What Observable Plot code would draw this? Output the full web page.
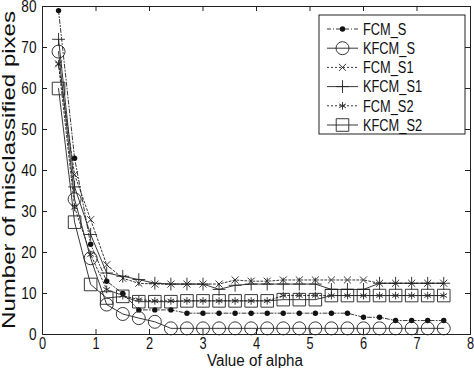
<!DOCTYPE html>
<html><head><meta charset="utf-8">
<script src="https://cdn.jsdelivr.net/npm/d3@7"></script>
<script src="https://cdn.jsdelivr.net/npm/@observablehq/plot@0.6"></script>
<style>body{margin:0;background:#fff} svg{display:block}</style>
</head><body><div id="chart"></div>
<script>
// ---- data ----
const alpha = [0.3,0.6,0.9,1.2,1.5,1.8,2.1,2.4,2.7,3.0,3.3,3.6,3.9,4.2,4.5,4.8,5.1,5.4,5.7,6.0,6.3,6.6,6.9,7.2,7.5];
const FCM_S   = [79,43,22,13,10,6,6,6,5.2,5.2,5.2,5.2,5.2,5.2,5.2,5.2,5.2,5.2,5.2,4.2,4.2,3.4,3.4,3.4,3.4];
const KFCM_S  = [69,33,18.6,7.3,5,4,3.1,1.5,1.5,1.5,1.5,1.5,1.5,1.5,1.5,1.5,1.5,1.5,1.5,1.5,1.5,1.5,1.5,1.5,1.5];
const FCM_S1  = [66,39,28,17,13.7,12.5,12.3,12.3,12.3,12.3,12.3,13.3,13,13,13.3,13.3,13.3,13.3,13.3,13.3,12.5,12.5,12.5,12.5,12.5];
const KFCM_S1 = [72,36,24.4,15,14.2,13.4,12.5,12.3,12.3,12.3,11,12,12.3,12.3,12.3,12.3,12.3,11,11,11,12.5,12.5,12.5,12.5,12.5];
const FCM_S2  = [66,31,19.5,11,9.5,8.5,8.2,8.2,8.2,8.2,8.2,8.2,8.2,8.2,9.5,9.5,9.5,9.5,9.5,9.5,9.5,9.5,9.5,9.5,9.5];
const KFCM_S2 = [60,27.4,12.2,8.9,9.3,8,8,8,8.2,8.2,8.2,8.2,8.2,8.2,8.5,8.5,8.5,9.5,9.5,9.5,9.5,9.5,9.5,9.5,9.5];
const seriesNames = ["FCM_S","KFCM_S","FCM_S1","KFCM_S1","FCM_S2","KFCM_S2"];
const seriesValues = [FCM_S, KFCM_S, FCM_S1, KFCM_S1, FCM_S2, KFCM_S2];
const xTicks = [0,1,2,3,4,5,6,7,8];
const yTicks = [0,10,20,30,40,50,60,70,80];
const xLabel = "Value of alpha";
const yLabel = "Number of misclassified pixes";

// ---- styles ----
const styles = {
  FCM_S:   {symbol: "circle",   r: 2.7, fill: "#111", stroke: "none", dash: "4,2,1,2"},
  KFCM_S:  {symbol: "circle",   r: 6.5, fill: "none", stroke: "#222", dash: null},
  FCM_S1:  {symbol: "times",    r: 3.3, fill: "none", stroke: "#222", dash: "2,2"},
  KFCM_S1: {symbol: "plus",     r: 4.2, fill: "none", stroke: "#222", dash: null},
  FCM_S2:  {symbol: "asterisk", r: 3.6, fill: "none", stroke: "#222", dash: "2,2"},
  KFCM_S2: {symbol: "square2",  r: 8.0, fill: "none", stroke: "#222", dash: null}
};

const W = 474, H = 368, mL = 42, mR = 4, mT = 6, mB = 34;
const plotH = H - mT - mB, plotW = W - mL - mR;
const data = seriesNames.flatMap((name, i) => alpha.map((a, j) => ({name, alpha: a, value: seriesValues[i][j]})));

const marks = [];
for (const name of seriesNames) {
  const s = styles[name];
  const d = data.filter(e => e.name === name);
  marks.push(Plot.line(d, {x: "alpha", y: "value", stroke: "#222", strokeWidth: 0.9, strokeDasharray: s.dash}));
}
for (const name of seriesNames) {
  const s = styles[name];
  const d = data.filter(e => e.name === name);
  marks.push(Plot.dot(d, {x: "alpha", y: "value", symbol: () => s.symbol, r: s.r, fill: s.fill, stroke: s.stroke, strokeWidth: 0.9}));
}

const chart = Plot.plot({
  width: W, height: H,
  marginLeft: mL, marginRight: mR, marginTop: mT, marginBottom: mB,
  style: {fontFamily: "'Liberation Sans', Arial, sans-serif", background: "#fff", color: "#111"},
  x: {domain: [0, 8]},
  y: {domain: [0, 80]},
  symbol: {type: "identity"},
  marks: [
    Plot.frame({stroke: "#222", strokeWidth: 1}),
    Plot.ruleX(xTicks, {x: d => d, insetTop: plotH - 5, stroke: "#222"}),
    Plot.ruleX(xTicks, {x: d => d, insetBottom: plotH - 5, stroke: "#222"}),
    Plot.ruleY(yTicks, {y: d => d, insetRight: plotW - 5, stroke: "#222"}),
    Plot.ruleY(yTicks, {y: d => d, insetLeft: plotW - 5, stroke: "#222"}),
    Plot.axisX({ticks: xTicks, tickSize: 0, tickPadding: 3, fontSize: 16, label: null, tickFormat: d3.format("d")}),
    Plot.axisY({ticks: yTicks, tickSize: 0, tickPadding: 6, fontSize: 17, label: null, tickFormat: d3.format("d")}),
    ...marks
  ]
});
document.getElementById("chart").appendChild(chart);

const svg = d3.select(chart);
const squeeze = 0.8;
function compress(sel) {
  sel.each(function() {
    const n = this.getComputedTextLength();
    if (n > 0) { this.setAttribute("textLength", n * squeeze); this.setAttribute("lengthAdjust", "spacingAndGlyphs"); }
  });
}
compress(svg.selectAll("text"));

// axis labels
svg.append("text").attr("x", mL + plotW * 0.5 - 1).attr("y", 366)
  .attr("text-anchor", "middle").attr("font-size", 16).attr("fill", "#111")
  .attr("textLength", 96).attr("lengthAdjust", "spacingAndGlyphs").text(xLabel);
svg.append("text").attr("transform", `translate(15,${mT + plotH / 2}) scale(${squeeze},1) rotate(-90)`)
  .attr("text-anchor", "middle").attr("font-size", 23).attr("fill", "#111")
  .attr("textLength", 318).attr("lengthAdjust", "spacingAndGlyphs").text(yLabel);

// legend
const lg = svg.append("g");
lg.append("rect").attr("x", 319).attr("y", 15).attr("width", 146).attr("height", 119)
  .attr("fill", "#fff").attr("stroke", "#222").attr("stroke-width", 1);
const symMap = {circle: d3.symbolCircle, times: d3.symbolTimes, plus: d3.symbolPlus, asterisk: d3.symbolAsterisk, square2: d3.symbolSquare2};
seriesNames.forEach((name, i) => {
  const s = styles[name];
  const cy = 29 + i * 19.2;
  lg.append("line").attr("x1", 327).attr("x2", 358).attr("y1", cy).attr("y2", cy)
    .attr("stroke", "#222").attr("stroke-width", 0.9).attr("stroke-dasharray", s.dash);
  lg.append("path").attr("transform", `translate(342.5,${cy})`)
    .attr("d", d3.symbol(symMap[s.symbol], s.r * s.r * Math.PI)())
    .attr("fill", s.fill === "none" ? "none" : s.fill).attr("stroke", s.stroke).attr("stroke-width", 0.9);
  const t = lg.append("text").attr("x", 363).attr("y", cy).attr("dy", "0.36em")
    .attr("text-anchor", "start").attr("font-size", 16).attr("fill", "#111").text(name);
  compress(t);
});
</script>
</body></html>
